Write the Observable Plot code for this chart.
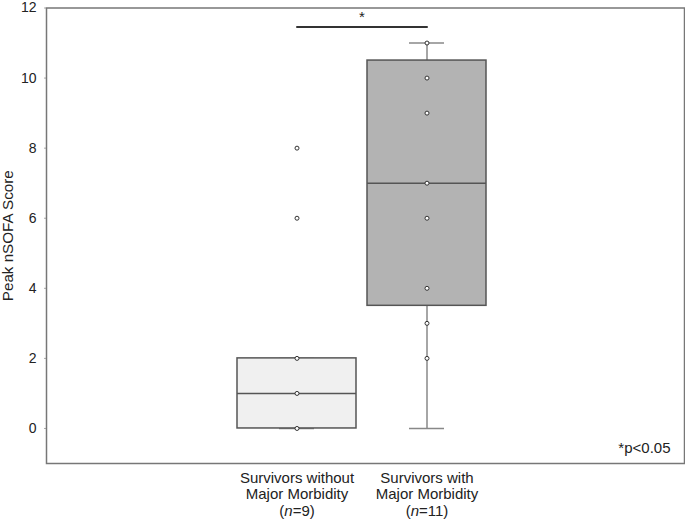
<!DOCTYPE html>
<html><head><meta charset="utf-8">
<script src="https://cdn.jsdelivr.net/npm/d3@7"></script>
<script src="https://cdn.jsdelivr.net/npm/@observablehq/plot@0.6"></script>
<style>body{margin:0;background:#fff;font-family:"Liberation Sans",Arial,sans-serif}</style>
</head><body><div id="chart"></div>
<script>
const groups = ["Survivors without Major Morbidity", "Survivors with Major Morbidity"];
const groupLabels = ["Survivors without\nMajor Morbidity\n(n=9)", "Survivors with\nMajor Morbidity\n(n=11)"];
const withoutScores = [0, 0, 0, 1, 1, 2, 2, 6, 8];
const withScores = [0, 2, 3, 4, 6, 7, 9, 10, 11, 11, 11];
const withoutShown = [0, 1, 2, 6, 8];
const withShown = [2, 3, 4, 6, 7, 9, 10, 11];
const boxFills = ["#f0f0f0", "#b3b3b3"];
const yTicks = [0, 2, 4, 6, 8, 10, 12];
const yLabel = "Peak nSOFA Score";
const sigY = 11.46;
const starY = 11.73;
const sigText = "*";
const noteText = "*p<0.05";

const data = [
  ...withoutScores.map(v => ({group: groups[0], value: v})),
  ...withScores.map(v => ({group: groups[1], value: v}))
];
const shown = [
  ...withoutShown.map(v => ({group: groups[0], value: v})),
  ...withShown.map(v => ({group: groups[1], value: v}))
];

function fences(V) {
  const s = V.slice().sort(d3.ascending);
  const q1 = d3.quantile(s, 0.25), q3 = d3.quantile(s, 0.75), r = q3 - q1;
  return [q1 - 1.5 * r, q3 + 1.5 * r];
}
const lo = V => { const [f] = fences(V); return d3.min(V.filter(v => v >= f)); };
const hi = V => { const [, f] = fences(V); return d3.max(V.filter(v => v <= f)); };

const chart = Plot.plot({
  width: 685,
  height: 520,
  marginLeft: 46,
  marginRight: 1,
  marginTop: 7.5,
  marginBottom: 57,
  style: {fontFamily: '"Liberation Sans", Arial, sans-serif', fontSize: "14px", color: "#222", background: "#fff"},
  x: {type: "band", domain: groups, range: [237, 486], paddingInner: 11 / 130, paddingOuter: 0, axis: null},
  y: {domain: [-1, 12], axis: null},
  color: {domain: groups, range: boxFills},
  marks: [
    Plot.axisY({ticks: yTicks, tickSize: 2, tickPadding: 8, stroke: "#aaa", fill: "#222", fontSize: 14, label: null}),
    Plot.text([yLabel], {text: d => d, frameAnchor: "left", textAnchor: "middle", rotate: -90, dx: -38, fontSize: 15.2, fill: "#222"}),
    Plot.frame({stroke: "#777", strokeWidth: 1.5}),
    Plot.ruleX(data, Plot.groupX({y1: lo, y2: hi}, {x: "group", y: "value", stroke: "#888", strokeWidth: 1.5})),
    Plot.tickY(data, Plot.groupX({y: lo}, {x: "group", y: "value", stroke: "#888", strokeWidth: 1.5, insetLeft: 42, insetRight: 42})),
    Plot.tickY(data, Plot.groupX({y: hi}, {x: "group", y: "value", stroke: "#888", strokeWidth: 1.5, insetLeft: 42, insetRight: 42})),
    Plot.barY(data, Plot.groupX({y1: "p25", y2: "p75"}, {x: "group", y: "value", fill: "group", stroke: "#555", strokeWidth: 1.5})),
    Plot.tickY(data, Plot.groupX({y: "median"}, {x: "group", y: "value", stroke: "#555", strokeWidth: 1.5})),
    Plot.dot(shown, {x: "group", y: "value", r: 2, stroke: "#333", fill: "#fff", strokeWidth: 1}),
    Plot.line(groups.map(g => ({group: g, y: sigY})), {x: "group", y: "y", stroke: "#333", strokeWidth: 2}),
    Plot.text([{group: groups[0], y: starY}], {x: "group", y: "y", text: () => sigText, dx: 65, fontSize: 15, fill: "#222"}),
    Plot.text(groups.map((g, i) => ({group: g, label: groupLabels[i]})), {x: "group", y: () => -1, text: "label",
      lineAnchor: "top", dy: 7, lineHeight: 1.13, fontSize: 15, fill: "#222"}),
    Plot.text([noteText], {text: d => d, frameAnchor: "bottom-right", textAnchor: "end", lineAnchor: "middle", dx: -14, dy: -15, fontSize: 15, fill: "#222"})
  ]
});

const svgns = "http://www.w3.org/2000/svg";
chart.querySelectorAll("tspan, text").forEach(t => {
  if (t.children.length) return;
  const m = t.textContent.match(/^\(n=(\d+)\)$/);
  if (m) {
    t.textContent = "(";
    const it = document.createElementNS(svgns, "tspan");
    it.setAttribute("font-style", "italic");
    it.textContent = "n";
    t.append(it);
    t.append("=" + m[1] + ")");
  }
});
document.getElementById("chart").append(chart);
</script>
</body></html>
